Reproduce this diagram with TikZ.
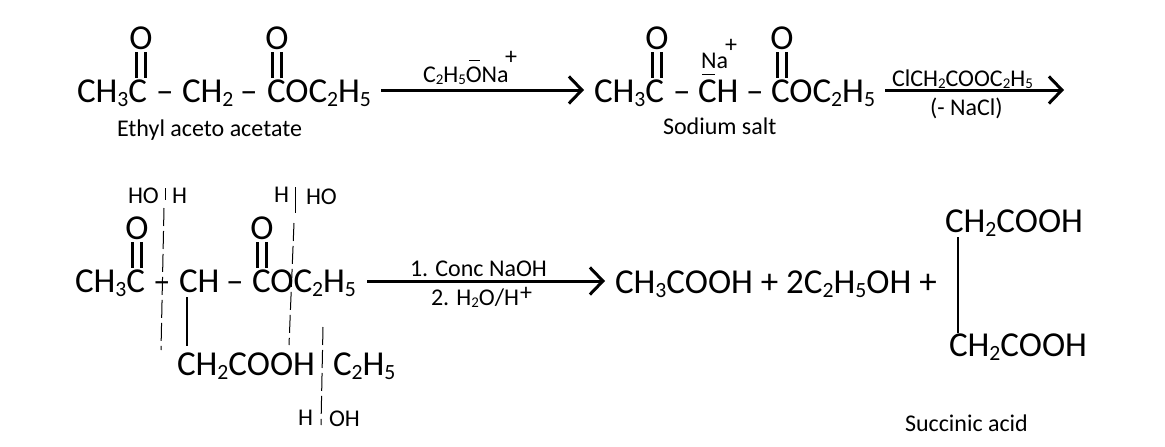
\documentclass[tikz,border=0pt]{standalone}
\usepackage{fontspec}
\usepackage{graphicx}
\setmainfont{Carlito}
\usetikzlibrary{arrows.meta}

\newcommand{\bigtxt}{\fontsize{35}{38}\selectfont}
\newcommand{\lowtxt}{\fontsize{24}{28}\selectfont}
\newcommand{\sbs}[1]{\raisebox{-0.12em}{\scalebox{0.62}{#1}}}

\begin{document}
\begin{tikzpicture}[x=1pt, y=-1pt]
    % ===================================
    % settings
    % ===================================
    \tikzset{
        chem/.style={anchor=base west, inner sep=0pt, outer sep=0pt, font=\bigtxt},
        note/.style={anchor=base west, inner sep=0pt, outer sep=0pt, font=\lowtxt},
        oxy/.style={anchor=base, inner xsep=0pt, inner ysep=3pt, font=\bigtxt},
        dbl/.style={draw=black, double=white, line width=2.6pt, double distance=6.6pt},
        bond/.style={line width=2.8pt},
        rxn/.style={line width=3pt, -{Straight Barb[length=13pt, width=27pt, line width=3pt]}},
        cut/.style={line width=1pt, dash pattern=on 18pt off 5pt},
        thin mark/.style={line width=1pt}
    }
    \useasboundingbox (0,0) rectangle (1165,447);
    % ===================================

    % 1. top row, left formula
    \node[chem] (ch3a) at (77,102) {CH\sbs{3}C};
    \node[chem] (dasha) at (156,102) {–};
    \node[chem] (ch2a) at (182,102) {CH\sbs{2}};
    \node[chem] (dashb) at (240,102) {–};
    \node[chem] (esta) at (267,102) {COC\sbs{2}H\sbs{5}};
    \node[note] (namea) at (117,136) {Ethyl aceto acetate};
    \node[oxy] (oa) at (141,49) {O};
    \node[oxy] (ob) at (277,49) {O};
    \coordinate (ca) at (141,78);
    \coordinate (cb) at (277,78);
    \draw[dbl] (oa.south) -- (ca);
    \draw[dbl] (ob.south) -- (cb);

    % first arrow
    \coordinate (ra) at (381,90);
    \coordinate (rb) at (584,90);
    \draw[rxn] (ra) -- (rb);
    \node[note] (labela) at (423,82) {C\sbs{2}H\sbs{5}ONa};
    \node[note] (plusa) at (505,64) {+};
    \coordinate (bara) at (469,60);
    \coordinate (barb) at (480,60);
    \draw[thin mark] (bara) -- (barb);

    % 2. top row, right formula
    \node[chem] (ch3b) at (594,102) {CH\sbs{3}C};
    \node[chem] (dashc) at (673,102) {–};
    \node[chem] (cha) at (698,102) {CH};
    \node[chem] (dashd) at (746,102) {–};
    \node[chem] (estb) at (771,102) {COC\sbs{2}H\sbs{5}};
    \node[note] (nameb) at (663,134) {Sodium salt};
    \node[oxy] (oc) at (657,49) {O};
    \node[oxy] (od) at (782,49) {O};
    \coordinate (cc) at (657,78);
    \coordinate (cd) at (782,78);
    \draw[dbl] (oc.south) -- (cc);
    \draw[dbl] (od.south) -- (cd);
    \node[note] (na) at (701,68) {Na};
    \node[note] (plusb) at (725,52) {+};
    \coordinate (barc) at (702,74);
    \coordinate (bard) at (715,74);
    \draw[thin mark] (barc) -- (bard);

    % second arrow
    \coordinate (rc) at (885,90);
    \coordinate (rd) at (1064,90);
    \draw[rxn] (rc) -- (rd);
    \node[note] (labelb) at (892,86) {ClCH\sbs{2}COOC\sbs{2}H\sbs{5}};
    \node[note] (labelc) at (930,115) {(- NaCl)};

    % 3. bottom row, left formula
    \node[chem] (ch3c) at (75,292) {CH\sbs{3}C};
    \node[chem] (dashe) at (153,292) {–};
    \node[chem] (chb) at (179,292) {CH};
    \node[chem] (dashf) at (226,292) {–};
    \node[chem] (estc) at (252,292) {COC\sbs{2}H\sbs{5}};
    \node[chem] (acid) at (177,375) {CH\sbs{2}COOH};
    \node[chem] (ethyl) at (333,375) {C\sbs{2}H\sbs{5}};
    \node[oxy] (oe) at (137,239) {O};
    \node[oxy] (of) at (262,239) {O};
    \coordinate (ce) at (137,268);
    \coordinate (cf) at (262,268);
    \draw[dbl] (oe.south) -- (ce);
    \draw[dbl] (of.south) -- (cf);
    \coordinate (cg) at (187,297);
    \coordinate (ch) at (187,346);
    \draw[bond] (cg) -- (ch);

    % cleavage lines
    \node[note] (hoa) at (128,203) {HO};
    \node[note] (ha) at (172,203) {H};
    \node[note] (hb) at (274,202) {H};
    \node[note] (hob) at (306,204) {HO};
    \node[note] (hc) at (298,425) {H};
    \node[note] (oh) at (329,426) {OH};
    \coordinate (ta) at (165,188);
    \coordinate (tb) at (165,200);
    \coordinate (tc) at (164,208);
    \coordinate (td) at (161,350);
    \coordinate (te) at (295,187);
    \coordinate (tf) at (295,213);
    \coordinate (tg) at (294,223);
    \coordinate (th) at (289,345);
    \coordinate (ti) at (323,327);
    \coordinate (tj) at (321,425);
    \draw[thin mark] (ta) -- (tb);
    \draw[cut] (tc) -- (td);
    \draw[thin mark] (te) -- (tf);
    \draw[cut] (tg) -- (th);
    \draw[cut] (ti) -- (tj);

    % third arrow
    \coordinate (re) at (367,281);
    \coordinate (rf) at (605,281);
    \draw[rxn] (re) -- (rf);
    \node[note] (labeld) at (410,276) {1. Conc NaOH};
    \node[note] (labele) at (431,305) {2. H\sbs{2}O/H};
    \node[note] (plusc) at (520,300) {+};

    % 4. products
    \node[chem] (prod) at (615,293) {CH\sbs{3}COOH + 2C\sbs{2}H\sbs{5}OH +};
    \node[chem] (suca) at (945,232) {CH\sbs{2}COOH};
    \node[chem] (sucb) at (949,356) {CH\sbs{2}COOH};
    \node[note] (namec) at (905,431) {Succinic acid};
    \coordinate (sa) at (958,237);
    \coordinate (sb) at (958,333);
    \draw[bond] (sa) -- (sb);

\end{tikzpicture}
\end{document}
